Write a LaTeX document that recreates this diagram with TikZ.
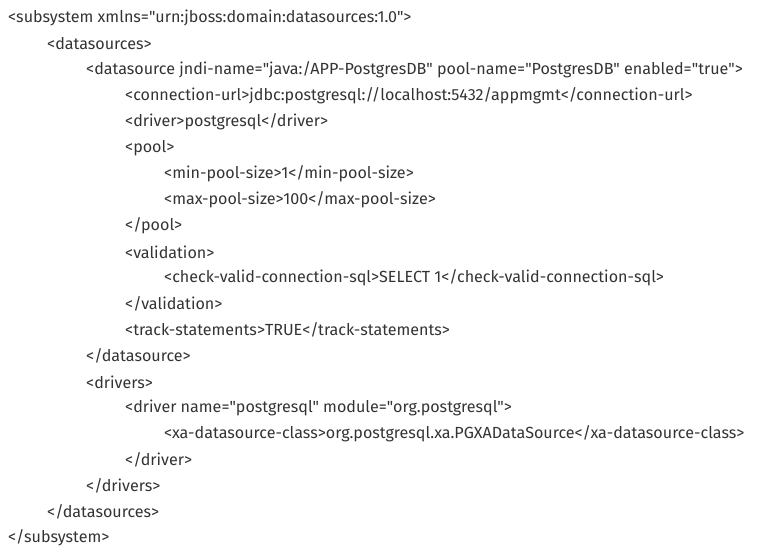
\documentclass[tikz,border=0pt]{standalone}
\usepackage{fontspec}
\setmainfont{Fira Sans}[Ligatures=TeXOff]
\definecolor{txt}{HTML}{333333}
\begin{document}
\begin{tikzpicture}[x=1pt,y=-1pt,ln/.style={anchor=west,inner sep=0pt,text=txt,font=\fontsize{16.1}{19}\selectfont}]
\useasboundingbox (0,0) rectangle (760,548);
\node[ln] (l1) at (8,18) {<subsystem xmlns="urn:jboss:domain:datasources:1.0">};
\node[ln] (l2) at (47,44) {<datasources>};
\node[ln] (l3) at (86,70) {<datasource jndi-name="java:/APP-PostgresDB" pool-name="PostgresDB" enabled="true">};
\node[ln] (l4) at (125,96) {<connection-url>jdbc:postgresql://localhost:5432/appmgmt</connection-url>};
\node[ln] (l5) at (125,122) {<driver>postgresql</driver>};
\node[ln] (l6) at (125,148) {<pool>};
\node[ln] (l7) at (164,174) {<min-pool-size>1</min-pool-size>};
\node[ln] (l8) at (164,200) {<max-pool-size>100</max-pool-size>};
\node[ln] (l9) at (125,226) {</pool>};
\node[ln] (l10) at (125,252) {<validation>};
\node[ln] (l11) at (164,278) {<check-valid-connection-sql>SELECT 1</check-valid-connection-sql>};
\node[ln] (l12) at (125,304) {</validation>};
\node[ln] (l13) at (125,330) {<track-statements>TRUE</track-statements>};
\node[ln] (l14) at (86,356) {</datasource>};
\node[ln] (l15) at (86,382) {<drivers>};
\node[ln] (l16) at (125,408) {<driver name="postgresql" module="org.postgresql">};
\node[ln] (l17) at (164,434) {<xa-datasource-class>org.postgresql.xa.PGXADataSource</xa-datasource-class>};
\node[ln] (l18) at (125,460) {</driver>};
\node[ln] (l19) at (86,486) {</drivers>};
\node[ln] (l20) at (47,512) {</datasources>};
\node[ln] (l21) at (8,538) {</subsystem>};
\end{tikzpicture}
\end{document}
